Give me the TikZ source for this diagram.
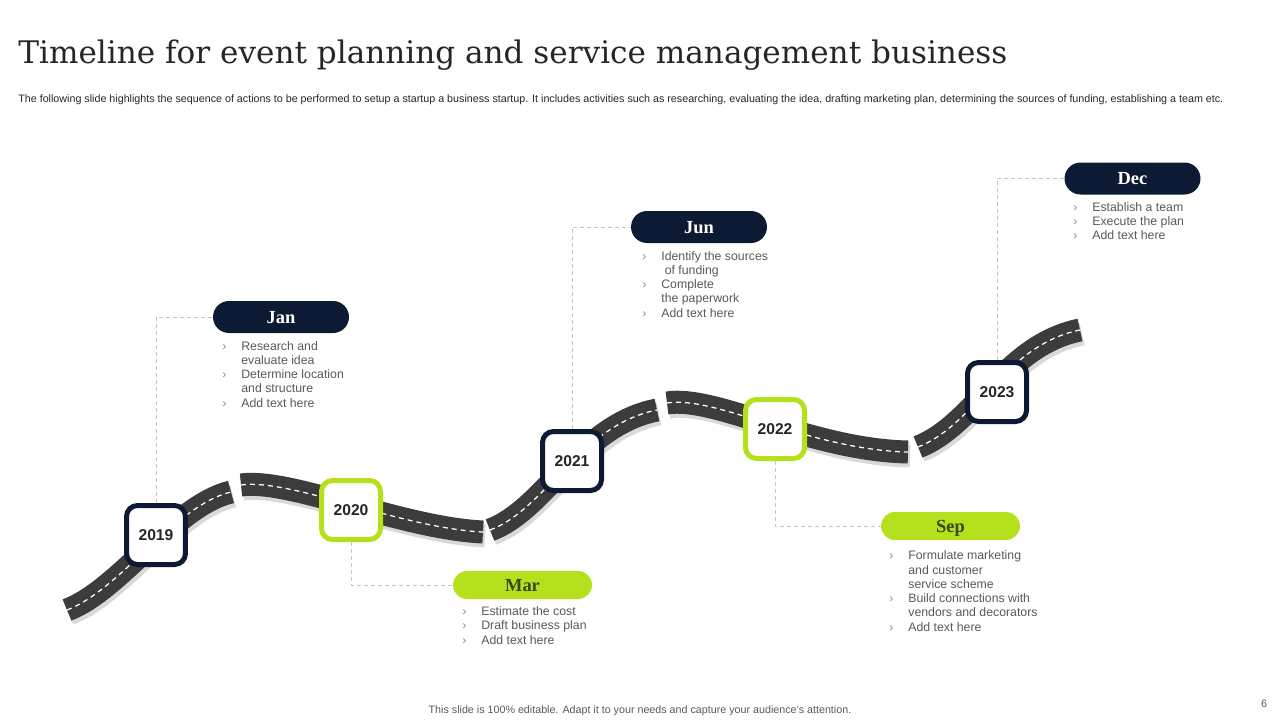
\documentclass[tikz,border=0pt]{standalone}
\usepackage{fontspec}
\setmainfont{Liberation Sans}
\newfontfamily\titlefont{DejaVu Serif}
\newfontfamily\pillfont{Liberation Serif}
\definecolor{navy}{HTML}{0C1A33}
\definecolor{lime}{HTML}{B4E01C}
\definecolor{roadgray}{HTML}{3C3C3C}
\definecolor{textgray}{HTML}{595959}
\definecolor{bulgray}{HTML}{8C8C8C}
\definecolor{linegray}{HTML}{C4C4C4}
\definecolor{titlegray}{HTML}{262626}
\definecolor{olive}{HTML}{3A4718}
\newcommand\blt{\llap{\textcolor{bulgray}{›}\hspace{0.3cm}}}

\begin{document}
\begin{tikzpicture}[x=0.02cm,y=-0.02cm,
  road/.style={draw=roadgray,line width=0.46cm,
    preaction={draw=black!15,line width=0.46cm,transform canvas={shift={(0.04cm,-0.08cm)}}},
    postaction={draw=white,line width=0.025cm,dash pattern=on 0.1cm off 0.08cm}},
  year/.style={draw=navy,line width=0.1cm,fill=white,rounded corners=0.22cm,minimum size=1.18cm,inner sep=0,
    text=titlegray,font=\bfseries\fontsize{8.9}{10}\selectfont},
  pill/.style={fill=navy,rounded corners=0.32cm,minimum width=2.72cm,minimum height=0.64cm,inner sep=0,
    text=white,text height=6.95pt,text depth=0pt,font=\pillfont\bfseries\fontsize{10.5}{12}\selectfont},
  limepill/.style={pill,fill=lime,text=olive,rounded corners=0.28cm,minimum width=2.78cm,minimum height=0.56cm},
  link/.style={draw=linegray,line width=0.02cm,dash pattern=on 0.08cm off 0.06cm},
  txt/.style={anchor=base west,align=left,inner sep=0,text=textgray,font=\fontsize{7}{8.1}\selectfont}]

\useasboundingbox (0,0) rectangle (1280,720);

% heading
\node at (18,63) [anchor=base west,inner sep=0,text=titlegray,font=\titlefont\fontsize{17.7}{20}\selectfont] (title)
  {Timeline for event planning and service management business};
\node at (18,102) [anchor=base west,inner sep=0,text=titlegray,font=\fontsize{6.1}{7}\selectfont] (sub)
  {The following slide highlights the sequence of actions to be performed to setup a startup a business startup. It includes activities such as researching, evaluating the idea, drafting marketing plan, determining the sources of funding, establishing a team etc.};

% road
\draw[road] (67,610) .. controls (120,590) and (175,505) .. (231,492);
\draw[road] (241,485) .. controls (290,478) and (400,528) .. (483,532);
\draw[road] (490,530) .. controls (545,510) and (580,425) .. (657,410);
\draw[road] (667,403) .. controls (715,395) and (810,450) .. (908,452);
\draw[road] (918,447) .. controls (975,425) and (1005,345) .. (1080,330);

% years
\node at (156,535) [year] (y19) {2019};
\node at (351,510) [year,draw=lime] (y20) {2020};
\node at (572,461) [year] (y21) {2021};
\node at (775,429) [year,draw=lime] (y22) {2022};
\node at (997,392) [year] (y23) {2023};

% months
\node at (281,317) [pill] (jan) {Jan};
\node at (522.5,585) [limepill] (mar) {Mar};
\node at (699,227) [pill] (jun) {Jun};
\node at (950.5,526) [limepill] (sep) {Sep};
\node at (1132.5,178.5) [pill] (dec) {Dec};

\draw[link] (y19.north) |- (jan.west);
\draw[link] (y20.south) |- (mar.west);
\draw[link] (y21.north) |- (jun.west);
\draw[link] (y22.south) |- (sep.west);
\draw[link] (y23.north) |- (dec.west);

% notes (placed at the baseline of the last line)
\node at (241,407) [txt] (jant) {\blt Research and\\evaluate idea\\\blt Determine location\\and structure\\\blt Add text here};
\node at (481,644) [txt] (mart) {\blt Estimate the cost\\\blt Draft business plan\\\blt Add text here};
\node at (661,317) [txt] (junt) {\blt Identify the sources\\\ of funding\\\blt Complete\\the paperwork\\\blt Add text here};
\node at (908,631) [txt] (sept) {\blt Formulate marketing\\and customer\\service scheme\\\blt Build connections with\\vendors and decorators\\\blt Add text here};
\node at (1092,239.5) [txt] (dect) {\blt Establish a team\\\blt Execute the plan\\\blt Add text here};

% footer
\node at (640,713.5) [anchor=base,inner sep=0,text=textgray,font=\fontsize{6.1}{7}\selectfont] (foot)
  {This slide is 100\% editable. Adapt it to your needs and capture your audience's attention.};
\node at (1264,707.5) [anchor=base,inner sep=0,text=textgray,font=\fontsize{6.1}{7}\selectfont] (page) {6};
\end{tikzpicture}
\end{document}
